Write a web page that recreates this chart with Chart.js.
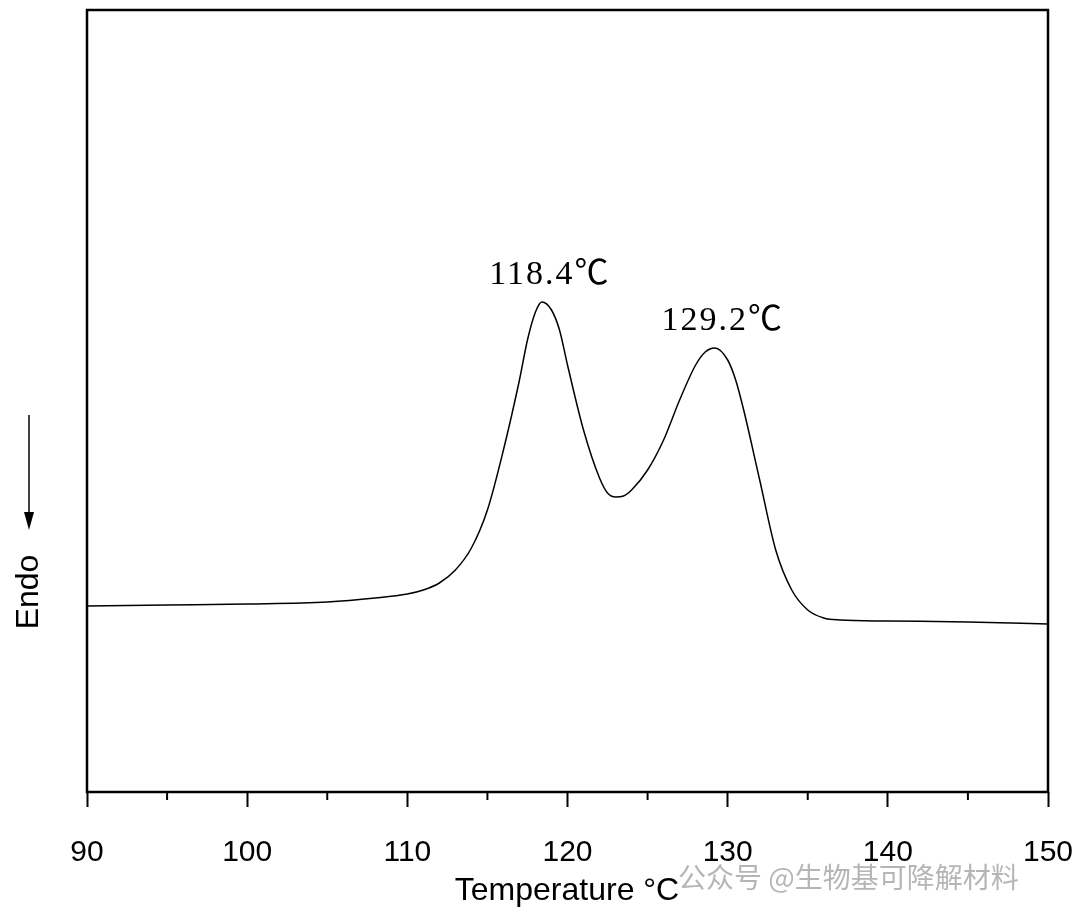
<!DOCTYPE html>
<html><head><meta charset="utf-8">
<script src="https://cdn.jsdelivr.net/npm/chart.js@4"></script>
<style>html,body{margin:0;padding:0;background:#fff}#c{display:block}</style>
</head><body>
<div style="width:1080px;height:920px"><canvas id="c" width="1080" height="920"></canvas></div>
<script>
const temps = [90,95,100,105,108,110,111,112,113,114,115,116,117,117.5,118,118.4,119,119.5,120,121,122,122.5,123,123.5,124,125,126,127,128,128.6,129.2,130,130.5,131,132,133,134,135,136,137,140,145,150];
const heatFlow = [186,187,188,190,194,198,202,209,222,244,282,342,412,452,480,490,482,462,427,362,314,299,295,296,302,322,352,392,427,440,444,432,412,382,312,242,202,182,174,172,171,170,168];
const xTicks = [90,100,110,120,130,140,150];
const peakLabels = [{x:118.4,y:490,text:'118.4℃'},{x:129.2,y:444,text:'129.2℃'}];

const deco = {
  id:'deco',
  afterDraw(ch){
    const c=ch.ctx,a=ch.chartArea,xs=ch.scales.x,ys=ch.scales.y;
    c.save();
    c.strokeStyle='#000';c.lineWidth=2.5;
    c.strokeRect(a.left,a.top,a.right-a.left,a.bottom-a.top);
    c.lineWidth=2;
    for(let t=95;t<150;t+=10){const px=xs.getPixelForValue(t);c.beginPath();c.moveTo(px,a.bottom);c.lineTo(px,a.bottom+8);c.stroke();}
    c.fillStyle='#000';
    c.font='34px "Liberation Serif","Noto Sans CJK SC",serif';c.textAlign='center';c.textBaseline='alphabetic';
    if('letterSpacing' in c) c.letterSpacing='2px';
    peakLabels.forEach(p=>{c.fillText(p.text,xs.getPixelForValue(p.x)+8,ys.getPixelForValue(p.y)-18);});
    if('letterSpacing' in c) c.letterSpacing='0px';
    c.font='32px "Liberation Sans",Arial,sans-serif';
    c.fillText('Temperature °C',567,900);
    c.save();c.translate(38,592);c.rotate(-Math.PI/2);c.fillText('Endo',0,0);c.restore();
    c.lineWidth=1.5;c.beginPath();c.moveTo(29,415);c.lineTo(29,515);c.stroke();
    c.beginPath();c.moveTo(24,512);c.lineTo(34,512);c.lineTo(29,530);c.closePath();c.fill();
    c.fillStyle='rgba(120,120,120,0.55)';c.font='28px "Noto Sans CJK SC",sans-serif';c.textAlign='left';
    c.fillText('公众号 @生物基可降解材料',678,888);
    c.restore();
  }
};

new Chart(document.getElementById('c'),{
  type:'line',
  data:{datasets:[{data:temps.map((t,i)=>({x:t,y:heatFlow[i]})),borderColor:'#000',borderWidth:1.5,pointRadius:0,tension:0.4,cubicInterpolationMode:'monotone',fill:false}]},
  options:{
    responsive:false,animation:false,
    layout:{padding:{left:87,right:32,top:10,bottom:0}},
    plugins:{legend:{display:false},tooltip:{enabled:false}},
    scales:{
      x:{type:'linear',min:90,max:150,
        afterBuildTicks(s){s.ticks=xTicks.map(v=>({value:v}));},
        afterFit(s){s.height=128;s.paddingLeft=0;s.paddingRight=0;},
        border:{display:false},
        grid:{drawOnChartArea:false,tickLength:15,tickWidth:2,color:'#000'},
        ticks:{padding:28,color:'#000',font:{size:30,family:'"Liberation Sans",Arial,sans-serif'},maxRotation:0}},
      y:{display:false,min:0,max:782}
    }
  },
  plugins:[deco]
});
</script></body></html>
